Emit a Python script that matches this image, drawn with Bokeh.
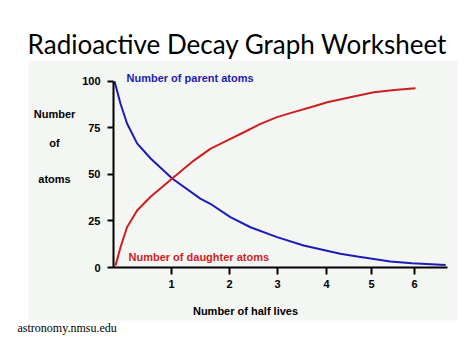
from bokeh.plotting import figure
from bokeh.models import Label, BoxAnnotation, FixedTicker, LinearAxis
from bokeh.embed import file_html
from bokeh.resources import INLINE

parent_x = [0.02, 0.14, 0.27, 0.47, 0.74, 1.17, 1.73, 1.93, 2.33, 2.73, 3.26, 3.79, 4.52, 4.86, 5.52, 5.95, 6.62]
parent_y = [100, 87.9, 77.3, 66.6, 58.5, 47.8, 37.0, 34.2, 27.0, 21.6, 16.3, 11.8, 7.4, 5.9, 3.2, 2.3, 1.4]

daughter_x = [0.04, 0.14, 0.27, 0.47, 0.74, 0.94, 1.17, 1.60, 1.93, 2.27, 2.60, 2.93, 3.26, 3.59, 3.93, 4.26, 4.72, 5.19, 5.65, 6.02]
daughter_y = [1.0, 10.9, 21.6, 30.6, 38.0, 42.5, 47.8, 57.4, 63.7, 68.2, 72.6, 77.1, 80.7, 83.4, 86.0, 88.7, 91.4, 94.1, 95.4, 96.2]

half_life_marks = [1.156, 2.312, 3.269, 4.246, 5.143, 6.0]
half_life_labels = ["1", "2", "3", "4", "5", "6"]
atom_ticks = [0, 25, 50, 75, 100]

title_text = "Radioactive Decay Graph Worksheet"
parent_label = "Number of parent atoms"
daughter_label = "Number of daughter atoms"
x_title = "Number of half lives"
y_title = ["Number", "of", "atoms"]
source_text = "astronomy.nmsu.edu"

# ---- layout helpers (pixel -> data) ----
X0, XS = 113.0, 50.17
Y0, YS = 267.0, 1.863
def dx(px):
    return (px - X0) / XS
def dy(py):
    return (Y0 - py) / YS

W, H = 474, 355
BG = "#f4f6f3"
BLUE = "#1c1cb4"
RED = "#cc1f1f"
FONT = "Liberation Sans"

p = figure(width=W, height=H, x_range=(dx(0), dx(W)), y_range=(dy(H), dy(0)),
           output_backend="svg", toolbar_location=None,
           x_axis_location=None, y_axis_location=None,
           min_border=0)
p.title.visible = False
p.border_fill_color = "white"
p.background_fill_color = "white"
p.outline_line_color = None
p.xgrid.visible = False
p.ygrid.visible = False

p.add_layout(BoxAnnotation(left=dx(28), right=dx(457), bottom=dy(320), top=dy(60),
                           fill_color=BG, fill_alpha=1, line_alpha=0, level="underlay"))

p.line(parent_x, parent_y, line_color=BLUE, line_width=2)
p.line(daughter_x, daughter_y, line_color=RED, line_width=2)

xaxis = LinearAxis(fixed_location=0, bounds=(0, dx(447)),
                   ticker=FixedTicker(ticks=half_life_marks),
                   major_label_overrides={t: l for t, l in zip(half_life_marks, half_life_labels)},
                   major_tick_out=7, major_label_standoff=5)
yaxis = LinearAxis(fixed_location=0, bounds=(0, 100),
                   ticker=FixedTicker(ticks=atom_ticks),
                   major_tick_out=6, major_label_standoff=7)
for ax in (xaxis, yaxis):
    ax.axis_line_width = 2
    ax.axis_line_color = "black"
    ax.major_tick_line_width = 2
    ax.major_tick_line_color = "black"
    ax.minor_tick_line_color = None
    ax.major_tick_in = 0
    ax.major_label_text_font = FONT
    ax.major_label_text_font_style = "bold"
    ax.major_label_text_font_size = "11px"
    ax.major_label_text_color = "black"
p.add_layout(xaxis, "below")
p.add_layout(yaxis, "left")

def lab(x, y, text, size, color="black", align="left", baseline="middle", font=FONT, style="bold"):
    p.add_layout(Label(x=x, y=y, text=text, text_font=font, text_font_size=size,
                       text_font_style=style, text_color=color, text_align=align,
                       text_baseline=baseline))

lab(dx(126), dy(77), parent_label, "11px", BLUE)
lab(dx(128), dy(256), daughter_label, "11px", RED)
lab(dx(245), dy(310), x_title, "11px", align="center")
for t, py in zip(y_title, [113, 142, 178]):
    lab(dx(54), dy(py), t, "11px", align="center")
lab(dx(17), dy(327), source_text, "12px", font="Liberation Serif", style="normal")
lab(dx(237), dy(43), title_text, "26px", font="Lato", style="normal", align="center", baseline="alphabetic")

open("out.html", "w").write(file_html(p, INLINE))
